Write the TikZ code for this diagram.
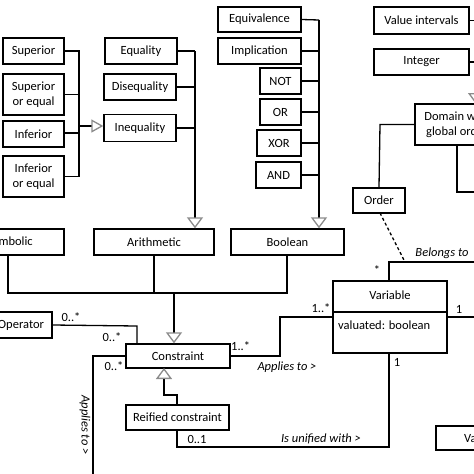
\documentclass[tikz,border=0pt]{standalone}
\usepackage{fontspec}
\setmainfont{Carlito}
\usetikzlibrary{arrows.meta}
\begin{document}
\begin{tikzpicture}[x=1pt,y=-1pt,
  box/.style={draw=black,line width=1.3pt,fill=white,rectangle,inner sep=0pt,align=center,font=\fontsize{12.5}{15}\selectfont},
  wire/.style={draw=black,line width=1.3pt},
  gen/.style={wire,-{Triangle[open,length=11pt,width=16pt,line width=1.3pt,color=black!45]}},
  genh/.style={wire,-{Triangle[open,length=12pt,width=13pt,line width=1.3pt,color=black!45]}},
  lbl/.style={font=\fontsize{12.5}{15}\selectfont,inner sep=0pt},
  ilbl/.style={font=\fontsize{12.5}{15}\selectfont\itshape,inner sep=0pt}]
\useasboundingbox (0,0) rectangle (474,474);
\clip (0,0) rectangle (474,474);
\fill[white] (0,0) rectangle (474,474);
% comparison boxes
\node[box,minimum width=61pt,minimum height=26pt] (sup) at (33.5,51) {Superior};
\node[box,minimum width=61pt,minimum height=41pt] (supeq) at (33.5,94.5) {Superior\\or equal};
\node[box,minimum width=61pt,minimum height=26pt] (inf) at (33.5,134) {Inferior};
\node[box,minimum width=61pt,minimum height=41pt] (infeq) at (33.5,176.5) {Inferior\\or equal};
% arithmetic kinds
\node[box,minimum width=72pt,minimum height=26pt] (equ) at (141,51) {Equality};
\node[box,minimum width=72pt,minimum height=26pt] (dis) at (140,87) {Disequality};
\node[box,minimum width=72pt,minimum height=27pt] (ineq) at (140,128) {Inequality};
% boolean kinds
\node[box,minimum width=83pt,minimum height=25pt] (eqv) at (259.5,19.5) {Equivalence};
\node[box,minimum width=83pt,minimum height=26pt] (imp) at (259.5,51) {Implication};
\node[box,minimum width=41pt,minimum height=26pt] (not) at (280.5,81) {NOT};
\node[box,minimum width=41pt,minimum height=26pt] (or) at (280.5,112) {OR};
\node[box,minimum width=44pt,minimum height=26pt] (xor) at (279,143) {XOR};
\node[box,minimum width=45pt,minimum height=26pt] (and) at (278.5,175) {AND};
% domain side
\node[box,minimum width=95pt,minimum height=27pt] (vint) at (421.5,20.5) {Value intervals};
\node[box,minimum width=95pt,minimum height=26pt] (int) at (421.5,62) {Integer};
\node[box,minimum width=84pt,minimum height=41pt] (dom) at (457,124.5) {Domain with\\global order};
\node[box,minimum width=52pt,minimum height=25pt] (ord) at (379,200.5) {Order};
% constraint kinds
\node[box,minimum width=108pt,minimum height=26pt] (sym) at (10,242) {Symbolic};
\node[box,minimum width=120pt,minimum height=26pt] (ari) at (154,242) {Arithmetic};
\node[box,minimum width=113pt,minimum height=26pt] (boo) at (287.5,242) {Boolean};
\node[box,minimum width=62pt,minimum height=26pt] (op) at (21,325) {Operator};
\node[box,minimum width=104pt,minimum height=24pt] (con) at (178,356) {Constraint};
\node[box,minimum width=103pt,minimum height=25pt] (rei) at (177.5,417.5) {Reified constraint};
% variable
\node[box,minimum width=114pt,minimum height=72pt] (var) at (390,317) {};
\draw[wire] (333,312) -- (447,312);
\node[font=\fontsize{12.5}{15}\selectfont] (varname) at (390,295) {Variable};
\node[font=\fontsize{12.5}{15}\selectfont,anchor=west,inner sep=0pt] (varatt) at (338,325) {valuated: boolean};
% partly visible box
\node[box,minimum width=80pt,minimum height=24pt] (va) at (476,438) {};
\node[font=\fontsize{12.5}{15}\selectfont,anchor=west,inner sep=0pt] (vatext) at (464,438) {Value};
% coordinates
\coordinate (cb) at (79,126);
\coordinate (ab) at (195,51);
\coordinate (bb) at (319,20);
% comparison bus
\draw[wire] (sup.east) -- (sup.east -| cb) -- (infeq.east -| cb) -- (infeq.east);
\draw[wire] (supeq.east) -- (supeq.east -| cb);
\draw[wire] (64,133) -- (79,133);
\draw[genh] (cb) -- (cb -| ineq.west);
% arithmetic bus
\draw[wire] (equ.east) -- (ab);
\draw[wire] (dis.east) -- (dis.east -| ab);
\draw[wire] (ineq.east) -- (ineq.east -| ab);
\draw[gen] (ab) -- (ab |- ari.north);
% boolean bus
\draw[wire] (eqv.east) -- (bb);
\foreach \n in {imp,not,or,xor,and} \draw[wire] (\n.east) -- (\n.east -| bb);
\draw[gen] (bb) -- (bb |- boo.north);
% constraint generalisation
\coordinate (cj) at (174,293);
\draw[wire] (8,255) -- (8,293) -- (287,293) -- (287,255);
\draw[wire] (ari.south) -- (ari.south |- cj);
\draw[gen] (cj) -- (cj |- con.north);
% reified
\draw[gen] (177,405) -- (177,395) -- (164,395) -- (164,368);
\draw[wire] (177,430) -- (177,447) -- (389,447) -- (389,353);
% operator
\draw[wire] (op.east) -- (137,326) -- (137,344);
% applies to (left)
\draw[wire] (126,356) -- (93,356) -- (93,480);
% applies to variable
\draw[wire] (con.east) -- (280,356) -- (280,317) -- (333,317);
% belongs to
\draw[wire] (389,281) -- (389,262) -- (480,262);
\draw[wire,dashed,dash pattern=on 3pt off 2.5pt] (380,213) -- (405,262);
\draw[wire] (447,317) -- (480,317);
% domain side
\draw[wire] (dom.west) -- (380,124.5) -- (ord.north);
\draw[wire] (457,145) -- (457,192) -- (480,192);
\draw[wire] (vint.east) -- (480,20.5);
\draw[wire] (int.east) -- (480,62);
\draw[gen] (476,80) -- (476,104);
% labels
\node[lbl] (l1) at (71,317) {0..*};
\node[lbl] (l2) at (112,337) {0..*};
\node[lbl] (l3) at (114,366) {0..*};
\node[lbl,anchor=west] (l4) at (231,346) {1..*};
\node[lbl] (l5) at (321,308) {1..*};
\node[lbl] (l6) at (377,270) {*};
\node[lbl] (l7) at (459,309) {1};
\node[lbl] (l8) at (397,362) {1};
\node[lbl] (l9) at (197,439) {0..1};
\node[ilbl] (a1) at (287,367) {Applies to >};
\node[ilbl] (a2) at (442,253) {Belongs to};
\node[ilbl] (a3) at (321,439) {Is unified with >};
\node[ilbl,rotate=-90] (a4) at (85,425) {Applies to >};
\end{tikzpicture}
\end{document}
